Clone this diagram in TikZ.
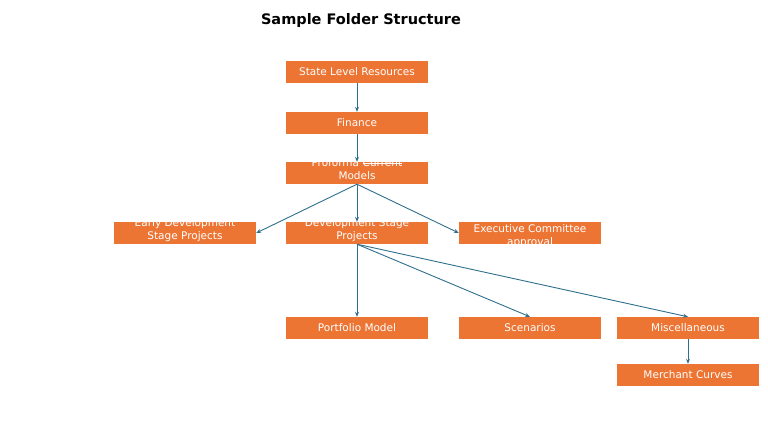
\documentclass[tikz,border=0pt]{standalone}
\usepackage{fontspec}
\setmainfont{DejaVu Sans}
\usetikzlibrary{arrows.meta}
\definecolor{boxc}{HTML}{ED7534}
\definecolor{linec}{HTML}{2E6F8E}
\newcommand{\mystrike}[1]{\tikz[baseline=(s.base)]{\node[inner sep=0pt,outer sep=0pt,minimum size=0pt,fill=none] (s) {#1};\draw[white,line width=0.6pt] ([yshift=0.5ex]s.base west) -- ([yshift=0.5ex]s.base east);}}
\newcommand{\bt}[1]{\smash{\begin{tabular}{@{}c@{}}#1\end{tabular}}}
\begin{document}
\begin{tikzpicture}[x=1pt,y=-1pt,
  box/.style={fill=boxc,draw=none,minimum width=142pt,minimum height=22pt,inner sep=0pt,
    text=white,align=center,font=\fontsize{10.5}{12.5}\selectfont},
  arr/.style={draw=linec,line width=0.9pt,-{Stealth[length=5pt,width=4pt]}}]
\useasboundingbox (0,0) rectangle (768,433);
\node[font=\bfseries\fontsize{14.5}{17}\selectfont] (title) at (361,21) {Sample Folder Structure};
\node[box] (slr) at (357,72) {State Level Resources};
\node[box] (fin) at (357,123) {Finance};
\node[box] (pro) at (357,173) {\bt{Proforma \mystrike{Current}\\Models}};
\node[box] (early) at (185,233) {\bt{Early Development\\Stage Projects}};
\node[box] (dev) at (357,233) {\bt{Development Stage\\Projects}};
\node[box] (fund) at (530,233) {\bt{Funded, post\\Executive Committee\\approval}};
\node[box] (port) at (357,328) {Portfolio Model};
\node[box] (scen) at (530,328) {Scenarios};
\node[box] (misc) at (688,328) {Miscellaneous};
\node[box] (merch) at (688,375) {Merchant Curves};
\draw[arr] (slr.south) -- (fin.north);
\draw[arr] (fin.south) -- (pro.north);
\draw[arr] (pro.south) -- (dev.north);
\draw[arr] (pro.south) -- (early.east);
\draw[arr] (pro.south) -- (fund.west);
\draw[arr] (dev.south) -- (port.north);
\draw[arr] (dev.south) -- (scen.north);
\draw[arr] (dev.south) -- (misc.north);
\draw[arr] (misc.south) -- (merch.north);
\end{tikzpicture}
\end{document}
